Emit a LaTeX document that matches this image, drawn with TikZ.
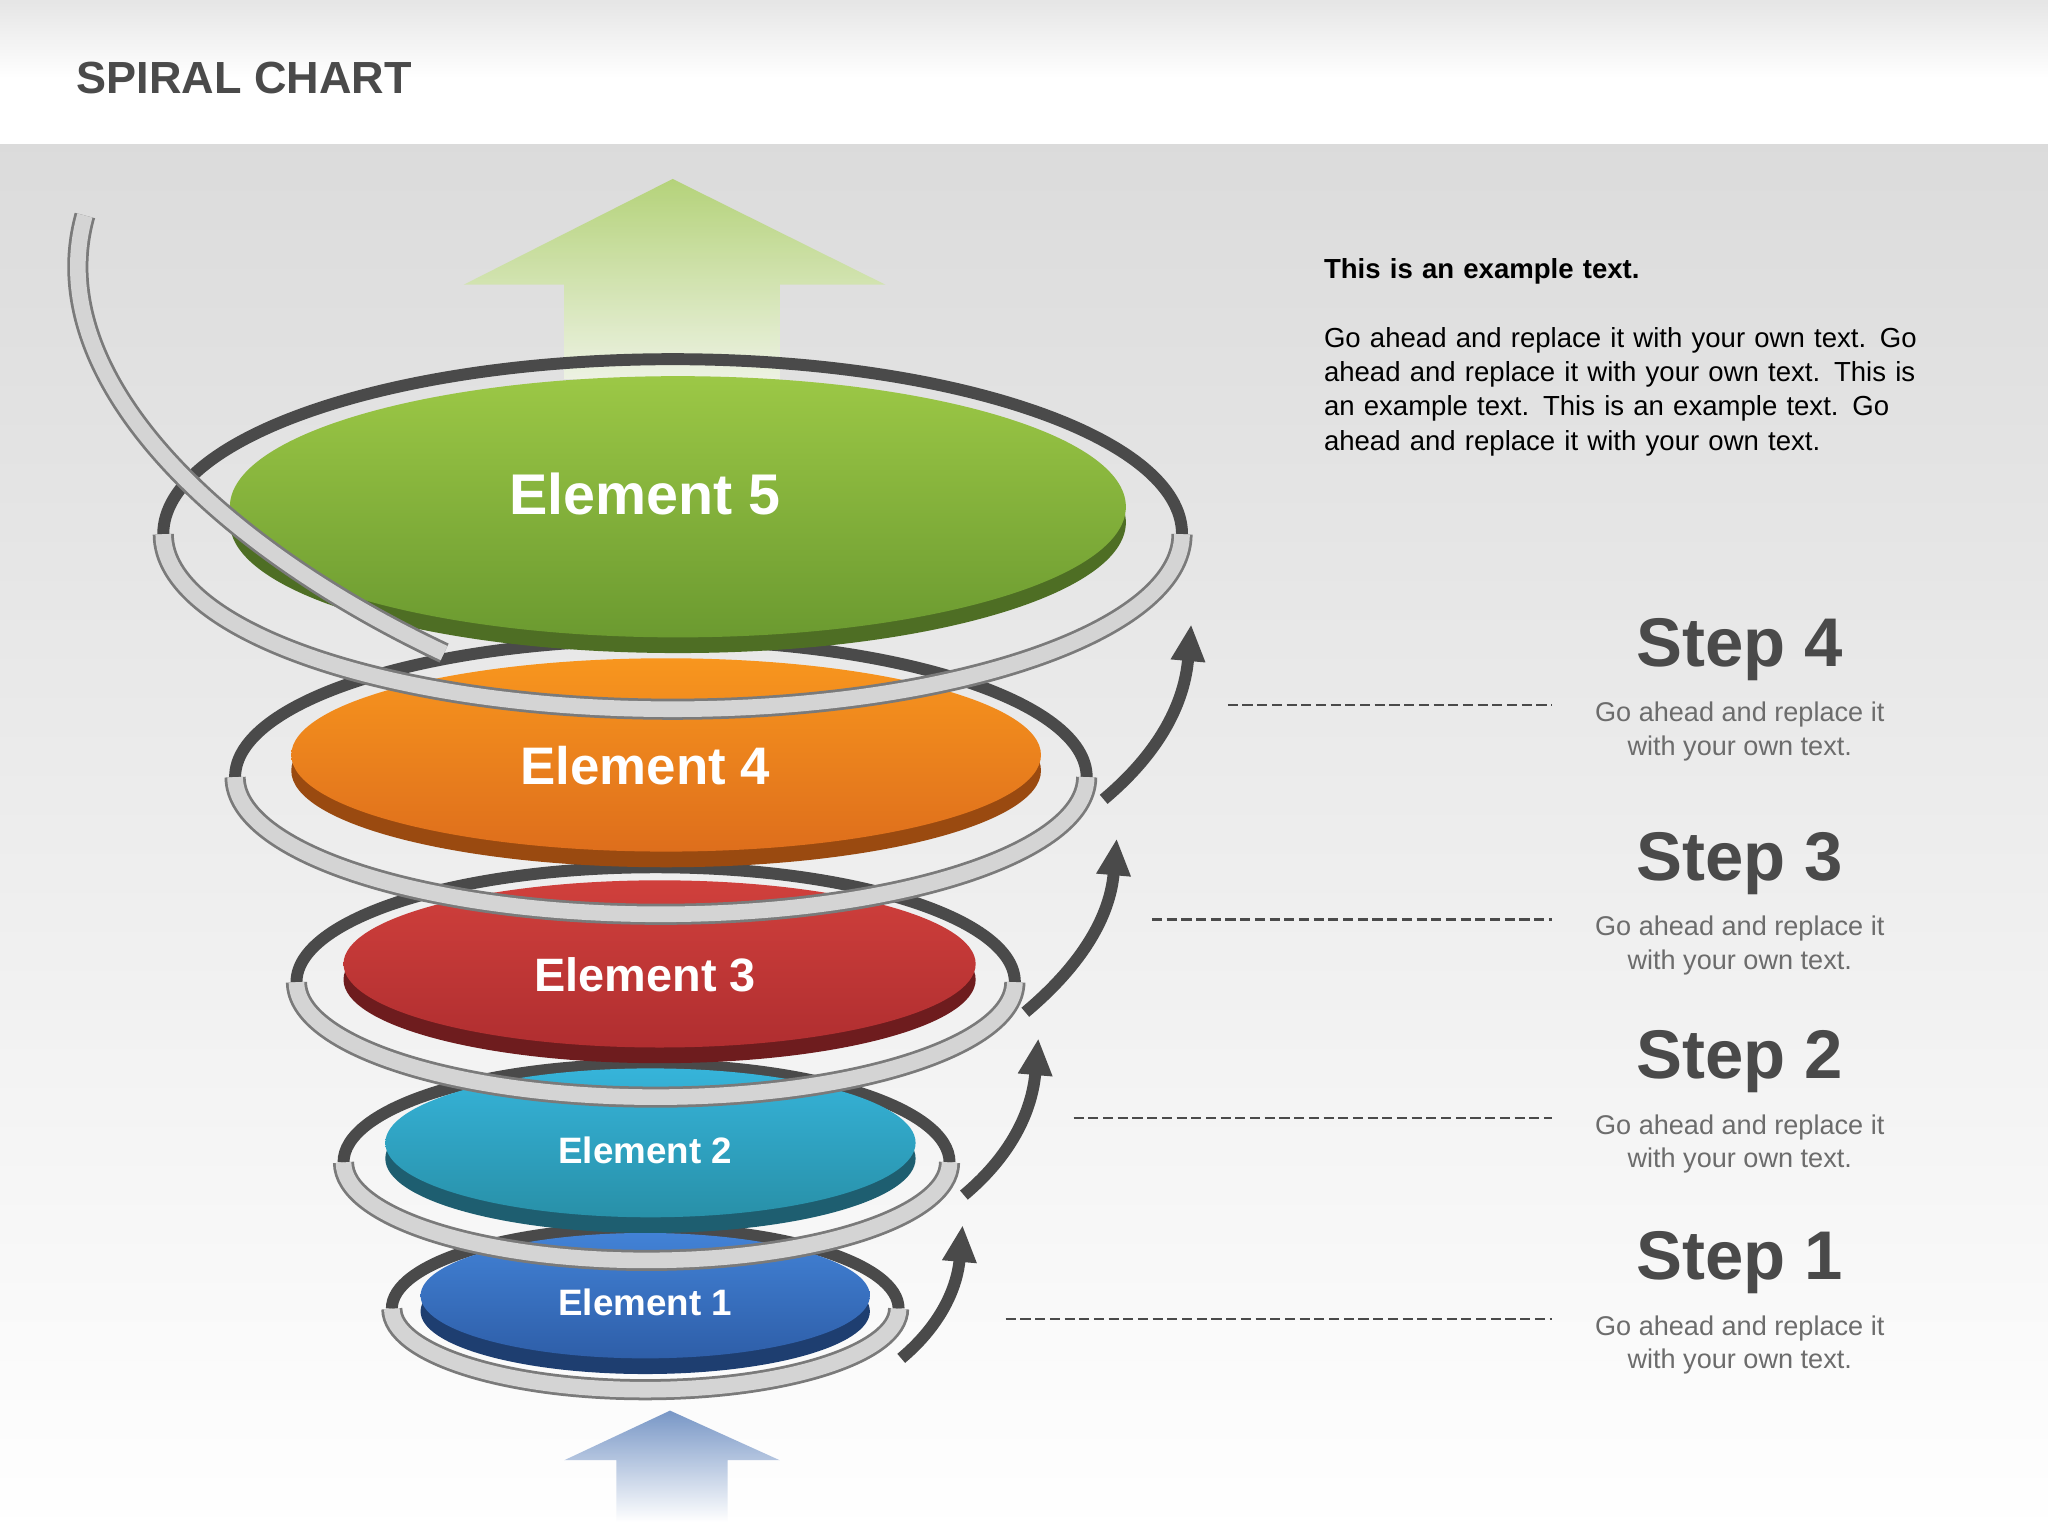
\documentclass[tikz,border=0pt]{standalone}
\usepackage{fontspec}
\setmainfont{Liberation Sans}
\usetikzlibrary{arrows.meta}
\definecolor{ribbon}{HTML}{D4D4D4}
\definecolor{ribedge}{HTML}{7A7A7A}
\definecolor{darkarr}{HTML}{4A4A4A}
\definecolor{g1}{HTML}{9CC846}\definecolor{g2}{HTML}{6B9A30}\definecolor{g3}{HTML}{4E6E24}
\definecolor{o1}{HTML}{F8961E}\definecolor{o2}{HTML}{DE6E1C}\definecolor{o3}{HTML}{9A4A10}
\definecolor{r1}{HTML}{D0403C}\definecolor{r2}{HTML}{B02E30}\definecolor{r3}{HTML}{6E1C1E}
\definecolor{c1}{HTML}{36B4DA}\definecolor{c2}{HTML}{2890A8}\definecolor{c3}{HTML}{1E5E70}
\definecolor{b1}{HTML}{4282D6}\definecolor{b2}{HTML}{2E5EA8}\definecolor{b3}{HTML}{1E3E70}
\tikzset{
  band/.style={line width=4.6pt,draw=ribedge},
  bandin/.style={line width=3.4pt,draw=ribbon},
  backline/.style={line width=2.6pt,draw=darkarr},
  elabel/.style={text=white,font=\bfseries},
  steptitle/.style={text=darkarr,font=\bfseries\fontsize{15}{17}\selectfont},
  stepbody/.style={text=gray!85!black,font=\fontsize{5.9}{7.3}\selectfont,align=center},
  guide/.style={dash pattern=on 2.2pt off 1pt,draw=darkarr,line width=0.5pt},
  uparr/.style={-{Triangle[width=7pt,length=8pt]},line width=2.6pt,draw=darkarr}
}
\begin{document}
\begin{tikzpicture}[x=0.01cm,y=-0.01cm]
\useasboundingbox (0,0) rectangle (1568,1176);
\shade[top color=gray!28,bottom color=white] (0,110) rectangle (1568,1176);
\shade[top color=gray!20,bottom color=white] (0,0) rectangle (1568,60);
\fill[white] (0,60) rectangle (1568,110);
\node[anchor=west,inner sep=0pt,font=\bfseries\fontsize{9.8}{12}\selectfont,text=darkarr] (title) at (58,60) {SPIRAL CHART};
\shade[top color=g1!85,bottom color=white!85!g1,opacity=0.8]
  (355,218) -- (515,137) -- (678,218) -- (597,218) -- (597,290) -- (432,290) -- (432,218) -- cycle;
\shade[top color=b2!80,bottom color=white,opacity=0.8]
  (432,1118) -- (513,1080) -- (597,1118) -- (557,1118) -- (557,1165) -- (472,1165) -- (472,1118) -- cycle;
\foreach \cx/\cy/\rx/\ry in {494/1002/194/62,495/890/232/75,502/752/275/88,506/595/326/105,515/409/390/134}{
  \draw[backline] (\cx+\rx,\cy) arc[start angle=0,end angle=-180,x radius=\rx,y radius=\ry];
}
\newcommand{\disc}[7]{%
  \fill[#7] (#1,#2+12) ellipse[x radius=#3,y radius=#4];
  \shade[top color=#5,bottom color=#6] (#1,#2) ellipse[x radius=#3,y radius=#4];
}
\disc{494}{992}{172}{48}{b1}{b2}{b3}
\node[elabel,font=\bfseries\fontsize{8}{9}\selectfont] (e1) at (494,997) {Element 1};
\draw[band] (688,1002) arc[start angle=0,end angle=180,x radius=194,y radius=62];
\draw[bandin] (688,1002) arc[start angle=0,end angle=180,x radius=194,y radius=62];
\disc{498}{875}{203}{57}{c1}{c2}{c3}
\node[elabel,font=\bfseries\fontsize{8}{9}\selectfont] (e2) at (494,881) {Element 2};
\draw[band] (727,890) arc[start angle=0,end angle=180,x radius=232,y radius=75];
\draw[bandin] (727,890) arc[start angle=0,end angle=180,x radius=232,y radius=75];
\disc{505}{738}{242}{64}{r1}{r2}{r3}
\node[elabel,font=\bfseries\fontsize{10.2}{12}\selectfont] (e3) at (494,746) {Element 3};
\draw[band] (777,752) arc[start angle=0,end angle=180,x radius=275,y radius=88];
\draw[bandin] (777,752) arc[start angle=0,end angle=180,x radius=275,y radius=88];
\disc{510}{578}{287}{74}{o1}{o2}{o3}
\node[elabel,font=\bfseries\fontsize{11.5}{14}\selectfont] (e4) at (494,586) {Element 4};
\draw[band] (832,595) arc[start angle=0,end angle=180,x radius=326,y radius=105];
\draw[bandin] (832,595) arc[start angle=0,end angle=180,x radius=326,y radius=105];
\disc{519}{388}{343}{100}{g1}{g2}{g3}
\node[elabel,font=\bfseries\fontsize{12.5}{15}\selectfont] (e5) at (494,378) {Element 5};
\draw[band] (905,409) arc[start angle=0,end angle=180,x radius=390,y radius=134];
\draw[bandin] (905,409) arc[start angle=0,end angle=180,x radius=390,y radius=134];
\draw[band] (65,165) .. controls (30,290) and (170,420) .. (340,500);
\draw[bandin] (65,165) .. controls (30,290) and (170,420) .. (340,500);
\coordinate (a1s) at (690,1040); \coordinate (a1e) at (737,938);
\coordinate (a2s) at (738,915); \coordinate (a2e) at (795,795);
\coordinate (a3s) at (785,775); \coordinate (a3e) at (855,642);
\coordinate (a4s) at (845,612); \coordinate (a4e) at (912,478);
\foreach \i in {1,2,3,4}{\draw[uparr] (a\i s) to[out=40,in=-95] (a\i e);}
\node[anchor=north west,inner sep=0pt,align=left,text width=4.62cm,font=\fontsize{6.0}{7.5}\selectfont] (txt) at (1013,197)
 {\textbf{This is an example text.}\\[7.5pt]Go ahead and replace it with your own text. Go ahead and replace it with your own text. This is an example text. This is an example text. Go ahead and replace it with your own text.};
\foreach \n/\y/\xl in {4/497/940,3/661/882,2/813/822,1/967/770}{
  \node[steptitle] (s\n) at (1332,\y) {Step \n};
  \node[stepbody,anchor=north] (b\n) at (1332,\y+28) {Go ahead and replace it\\with your own text.};
  \coordinate (d\n) at (\xl,\y+43);
  \draw[guide] (d\n) -- (1188,\y+43);
}
\end{tikzpicture}
\end{document}
